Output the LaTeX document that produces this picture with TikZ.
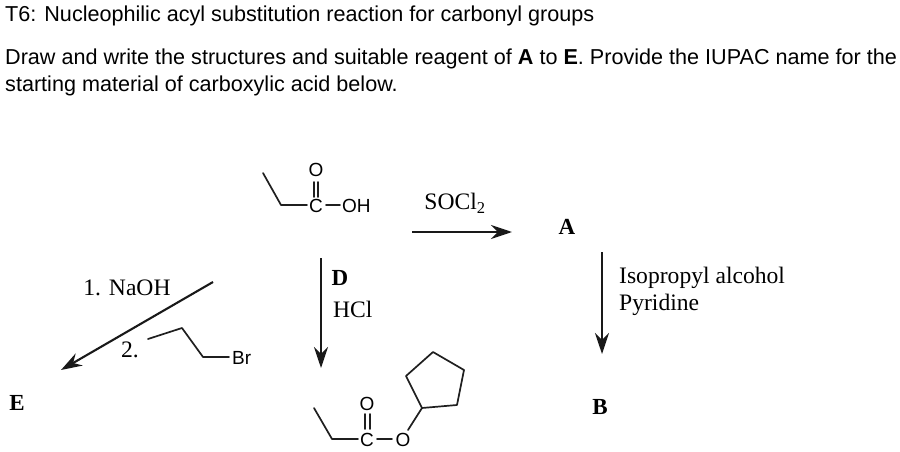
\documentclass[tikz,border=0pt]{standalone}
\usepackage{fontspec}
\setmainfont{Liberation Serif}
\newfontfamily\arialf{Liberation Sans}
\usetikzlibrary{arrows.meta}
\tikzset{
  x=1pt,y=-1pt,
  headtxt/.style={anchor=base west,inner sep=0,font=\arialf\fontsize{21.6}{24}\selectfont},
  atom/.style={inner sep=0,font=\arialf\fontsize{19}{21}\selectfont},
  reagent/.style={inner sep=0,font=\fontsize{23.6}{26}\selectfont},
  letter/.style={inner sep=0,font=\bfseries\fontsize{23}{25}\selectfont},
  bond/.style={line width=1.7pt,line cap=round,line join=round,color=black!88},
  rxn/.style={line width=2.1pt,color=black!90,-{Stealth[length=21pt,width=14pt,inset=7pt]}}
}
\begin{document}
\begin{tikzpicture}
\useasboundingbox (0,0) rectangle (900,452);
% heading
\node[headtxt] (h1) at (5,21.7) {T6: Nucleophilic acyl substitution reaction for carbonyl groups};
\node[headtxt] (h2) at (5,64.7) {Draw and write the structures and suitable reagent of \textbf{A} to \textbf{E}. Provide the IUPAC name for the};
\node[headtxt] (h3) at (5,91.7) {starting material of carboxylic acid below.};
% top molecule
\coordinate (a1) at (263,173);
\coordinate (a2) at (281,205);
\node[atom] (c1) at (316,205.5) {C};
\node[atom] (o1) at (316,170) {O};
\node[atom,anchor=west] (oh) at (342,205.5) {OH};
\draw[bond] (a1) -- (a2) -- (307,205);
\draw[bond] (313.8,182) -- (313.8,197);
\draw[bond] (318.3,182) -- (318.3,197);
\draw[bond] (326,205) -- (340,205);
% reagents and arrows
\node[reagent] (soc) at (455,203) {SOCl\textsubscript{2}};
\coordinate (r1s) at (412,232);
\coordinate (r1e) at (512,232);
\draw[rxn] (r1s) -- (r1e);
\node[letter] (A) at (567,227) {A};
\coordinate (r2s) at (602,252);
\coordinate (r2e) at (602,354);
\draw[rxn] (r2s) -- (r2e);
\node[reagent,anchor=base west] (iso) at (619,283) {Isopropyl alcohol};
\node[reagent,anchor=base west] (pyr) at (619,310) {Pyridine};
\node[letter] (B) at (600,407) {B};
\coordinate (r3s) at (321,258);
\coordinate (r3e) at (321,368);
\draw[rxn] (r3s) -- (r3e);
\node[letter] (D) at (340,278) {D};
\node[reagent,anchor=base west] (hcl) at (333,317) {HCl};
% bottom molecule
\coordinate (b1) at (314,408);
\coordinate (b2) at (332,439);
\node[atom] (c2) at (367,440) {C};
\node[atom] (o2) at (367,404) {O};
\node[atom] (o3) at (403,439.5) {O};
\coordinate (p1) at (422,408);
\coordinate (p2) at (406,376);
\coordinate (p3) at (433,352);
\coordinate (p4) at (464,370);
\coordinate (p5) at (457,405);
\draw[bond] (b1) -- (b2) -- (358,439);
\draw[bond] (365,414) -- (365,429);
\draw[bond] (370,414) -- (370,429);
\draw[bond] (377,439) -- (392,439);
\draw[bond] (408,430) -- (p1);
\draw[bond] (p1) -- (p2) -- (p3) -- (p4) -- (p5) -- cycle;
% left arrow
\coordinate (r4s) at (213,282);
\coordinate (r4e) at (61,370);
\draw[rxn] (r4s) -- (r4e);
\node[reagent] (naoh) at (127,288) {1. NaOH};
\node[reagent] (two) at (130,350) {2.};
\coordinate (d1) at (148,339);
\coordinate (d2) at (182,328);
\coordinate (d3) at (203,357);
\node[atom,anchor=west] (br) at (232,358) {Br};
\draw[bond] (d1) -- (d2) -- (d3) -- (229,357);
\node[letter] (E) at (17,403) {E};
\end{tikzpicture}
\end{document}
